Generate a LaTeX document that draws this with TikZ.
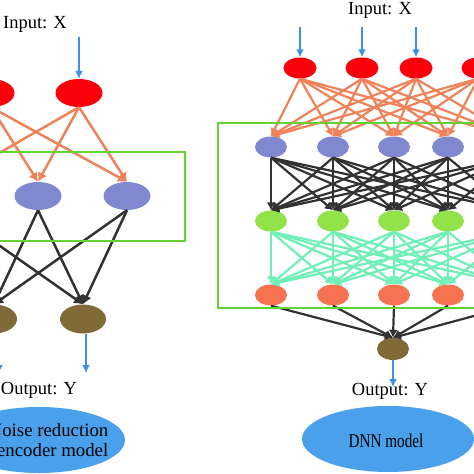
\documentclass[tikz,border=0pt]{standalone}
\usepackage{fontspec}
\setmainfont{Liberation Serif}
\usetikzlibrary{shapes.geometric,arrows.meta}
\definecolor{redn}{RGB}{250,0,10}
\definecolor{coral}{RGB}{240,130,90}
\definecolor{bluen}{RGB}{128,136,208}
\definecolor{darkl}{RGB}{50,50,50}
\definecolor{greenn}{RGB}{146,226,74}
\definecolor{teal}{RGB}{112,240,182}
\definecolor{orangen}{RGB}{245,115,80}
\definecolor{brownn}{RGB}{128,106,56}
\definecolor{arrowblue}{RGB}{60,145,225}
\definecolor{ellblue}{RGB}{75,160,235}
\definecolor{boxgreen}{RGB}{100,210,50}
\begin{document}
\begin{tikzpicture}[x=1pt,y=-1pt,
  neuron/.style={ellipse, draw=none, inner sep=0pt},
  lbig/.style={neuron, minimum width=47pt, minimum height=28pt},
  rsmall/.style={neuron, minimum width=32pt, minimum height=21pt},
  lbl/.style={font=\fontsize{18.5}{20}\selectfont, inner sep=0pt},
  lcoral/.style={draw=coral, line width=2.5pt, -{Latex[length=9pt,width=10pt]}},
  ldark/.style={draw=darkl, line width=2.5pt, -{Latex[length=9pt,width=10pt]}},
  rcoral/.style={draw=coral, line width=2.2pt, -{Latex[length=8pt,width=9pt]}},
  rdark/.style={draw=darkl, line width=2.2pt, -{Latex[length=8pt,width=9pt]}},
  rteal/.style={draw=teal, line width=2.2pt, -{Latex[length=8pt,width=9pt]}},
  inarrow/.style={draw=arrowblue, line width=2.2pt, -{Latex[length=8pt,width=8pt]}},
  gbox/.style={draw=boxgreen, line width=2pt},
  model/.style={ellipse, fill=ellblue, draw=none, minimum width=172pt, minimum height=66pt}]
\useasboundingbox (0,0) rectangle (474,474);
\clip (0,0) rectangle (474,474);

% ---------- left panel ----------
\node[lbig, fill=redn] (lr1) at (-9,93) {};
\node[lbig, fill=redn] (lr2) at (79,93) {};
\node[lbig, fill=bluen] (lb0) at (-51,196) {};
\node[lbig, fill=bluen] (lb1) at (38,196) {};
\node[lbig, fill=bluen] (lb2) at (127,196) {};
\node[lbig, fill=brownn, minimum width=46pt, minimum height=29pt] (lo1) at (-6,319) {};
\node[lbig, fill=brownn, minimum width=46pt, minimum height=29pt] (lo2) at (83,319) {};

\foreach \s in {lr1,lr2}
  \foreach \t in {lb0,lb1,lb2}
    \draw[lcoral] (\s.south) -- (\t.north);
\foreach \s in {lb0,lb1,lb2}
  \foreach \t in {lo1,lo2}
    \draw[ldark] (\s.south) -- (\t.north);

\coordinate (lin1) at (-9,37);
\coordinate (lin2) at (79,37);
\draw[inarrow] (lin1) -- (lr1.north);
\draw[inarrow] (lin2) -- (lr2.north);
\coordinate (lout1) at (-1,373);
\coordinate (lout2) at (86,373);
\draw[inarrow] (lo1.south -| lout1) -- (lout1);
\draw[inarrow] (lo2.south -| lout2) -- (lout2);

\draw[gbox] (-100,152) rectangle (185,241);

\node[lbl] (linx) at (35,24) {Input: X};
\node[lbl] (louty) at (39,390) {Output: Y};
\node[model] (lmodel) at (39,440) {};
\node[font=\fontsize{18.8}{20.5}\selectfont, inner sep=0pt, align=right, anchor=east] (lmodeltext) at (108.5,440) {Noise reduction\\autoencoder model};

% ---------- right panel ----------
\foreach \i/\x in {1/300,2/362,3/416,4/478}
  \node[rsmall, fill=redn, minimum width=33pt] (rr\i) at (\x,68) {};
\foreach \i/\x in {1/271,2/333,3/394,4/448,5/512}{
  \node[rsmall, fill=bluen] (rb\i) at (\x,147) {};
  \node[rsmall, fill=greenn] (rg\i) at (\x,221) {};
  \node[rsmall, fill=orangen] (ro\i) at (\x,295) {};
}
\node[rsmall, fill=brownn, minimum height=22pt] (rout) at (393,349) {};

\foreach \s in {1,2,3,4}
  \foreach \t in {1,2,3,4,5}
    \draw[rcoral] (rr\s.south) -- (rb\t.north);
\foreach \s in {1,2,3,4,5}
  \foreach \t in {1,2,3,4,5}
    \draw[rdark] (rb\s.south) -- (rg\t.north);
\foreach \s in {1,2,3,4,5}
  \foreach \t in {1,2,3,4,5}
    \draw[rteal] (rg\s.south) -- (ro\t.north);
\foreach \s in {1,2,3,4,5}
  \draw[rdark] (ro\s.south) -- (rout.north);

\foreach \i/\x in {1/300,2/362,3/416,4/478}{
  \coordinate (rin\i) at (\x,27);
  \draw[inarrow] (rin\i) -- (rr\i.north);
}
\coordinate (routend) at (393,387);
\draw[inarrow] (rout.south) -- (routend);

\draw[gbox] (218,123) rectangle (560,308);

\node[lbl] (rinx) at (380,10) {Input: X};
\node[lbl] (routy) at (390,391) {Output: Y};
\node[model] (rmodel) at (388,439) {};
\node[font=\fontsize{19.5}{22}\selectfont, inner sep=0pt, xscale=0.78] (rmodeltext) at (386,441) {DNN model};
\end{tikzpicture}
\end{document}
